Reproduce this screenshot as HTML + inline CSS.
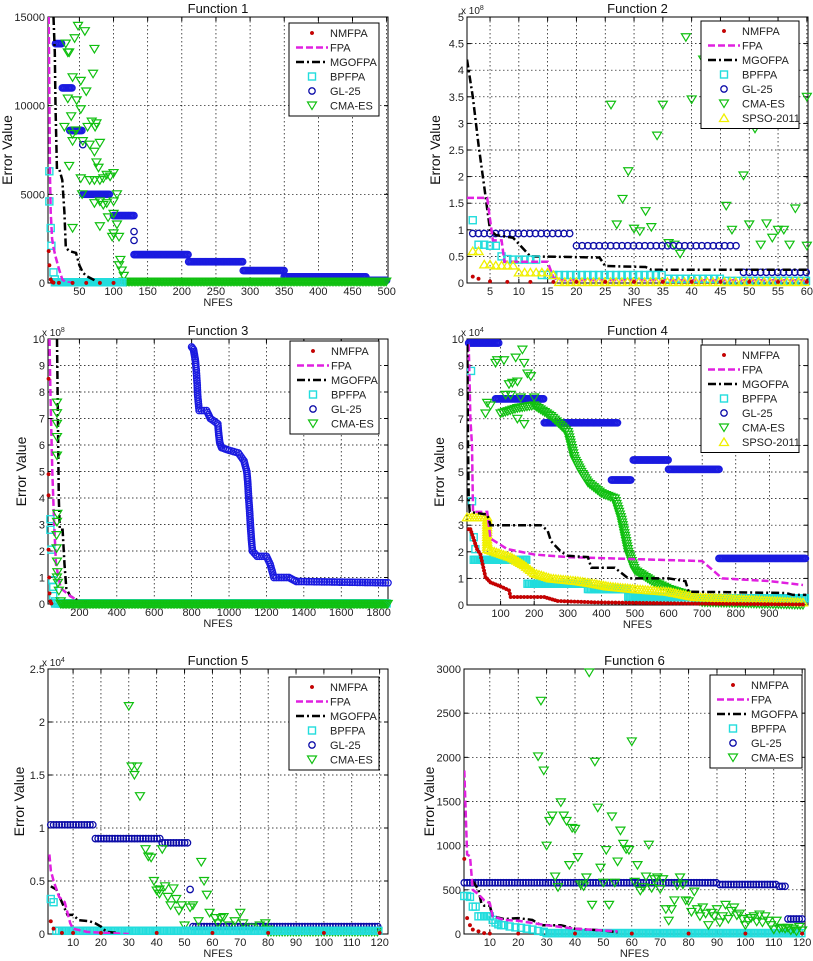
<!DOCTYPE html>
<html><head><meta charset="utf-8"><style>
html,body{margin:0;padding:0;background:#fff}
svg{display:block;font-family:"Liberation Sans",Arial,sans-serif}
</style></head><body>
<svg id="fig" width="813" height="961" viewBox="0 0 813 961" xmlns="http://www.w3.org/2000/svg"></svg>
<script>
// ===== Function 1 =====
const f1_nm_x=[5,6,8,10,12,20,40,60,80,100];
const f1_nm_y=[1800,1000,200,60,20,10,5,5,5,5];
const f1_fpa_x=[5,6,7,8,10,12,15,20,25,30,40];
const f1_fpa_y=[15000,10000,6000,4000,2500,2000,1500,800,200,50,20];
const f1_mg_x=[12,14,15,17,20,25,28,30,35,45,50,55,60,70,75];
const f1_mg_y=[15000,13000,10000,6500,6500,5800,4000,2000,1800,1700,1000,600,400,200,100];
const f1_bp_x=[6,6,8,9,12,14];
const f1_bp_y=[6300,4600,3100,2100,600,200];
const f1_bpz_x0=[14],f1_bpz_x1=[115],f1_bpz_y=[40];
const f1_gl_x0=[15,25,36,55,100,130,210,290,350,470];
const f1_gl_x1=[25,40,55,95,130,210,290,350,470,500];
const f1_gl_y=[13500,11000,8600,5000,3800,1600,1200,700,350,150];
const f1_gls_x=[55,130,130],f1_gls_y=[7800,2900,2400];
const f1_cma_x=[30,33,35,43,48,58,72,70,40,33,46,52,60,38,52,28,40,45,62,68,75,73,40,55,65,80,72,35,75,78,52,65,72,80,85,90,95,100,54,72,80,85,90,100,105,92,100,105,40,80,100,108,98,110,108,112,115];
const f1_cma_y=[13500,13000,13000,13800,14500,14200,13200,11800,11600,10400,10300,11400,10800,9400,9800,8800,8400,8600,8800,9100,9000,8800,8000,8000,7800,7900,7400,6600,6800,6500,5900,5800,5800,5800,5900,6100,6000,6200,5000,4500,4600,4400,4500,4600,5000,3700,3900,3300,3100,3200,2800,2600,2600,1300,1000,700,400];
const f1_cmaz_x0=[115],f1_cmaz_x1=[500],f1_cmaz_y=[80];
// ===== Function 2 (x1e8) =====
const f2_nm_x=[2,3,5,8,12,16,20,25,30,35,40,45,50,55,60];
const f2_nm_y=[0.12,0.08,0.03,0.02,0.02,0.02,0.02,0.02,0.02,0.02,0.02,0.02,0.02,0.02,0.02];
const f2_fpa_x=[1,4.5,5,5.5,7,7.5,15,16,17,60];
const f2_fpa_y=[1.6,1.6,1.2,0.8,0.8,0.4,0.4,0.1,0.05,0.05];
const f2_mg_x=[1,2,3,4,5,6,9,12,24,25,32,33,60];
const f2_mg_y=[4.2,3.5,2.6,1.8,1.0,0.9,0.85,0.5,0.48,0.32,0.3,0.25,0.25];
const f2_bp_x=[2,3,4,5,6,7,8,9,10,11,12,13];
const f2_bp_y=[1.18,0.72,0.72,0.7,0.7,0.5,0.45,0.44,0.44,0.44,0.44,0.44];
const f2_bpz_x0=[14,36,46],f2_bpz_x1=[35,45,60],f2_bpz_y=[0.15,0.08,0.04];
const f2_gl_x0=[2,20,49],f2_gl_x1=[19,48,60],f2_gl_y=[0.93,0.7,0.2];
const f2_cma_x=[26,27,28,29,30,31,32,33,34,35,36,37,38,39,40,42,46,47,49,50,51,52,53,54,55,56,57,58,60,60];
const f2_cma_y=[3.35,1.1,1.58,2.1,1.02,0.97,1.35,1.05,2.77,3.35,0.75,0.72,0.55,4.62,3.45,4.2,1.45,1.0,2.02,1.1,2.9,0.72,1.12,0.85,1.0,1.0,0.72,1.4,0.7,3.5];
const f2_sp_x=[2,3,4,5,6,7,8,9,10,11,12,13,14,15,16];
const f2_sp_y=[0.6,0.6,0.35,0.35,0.33,0.33,0.33,0.33,0.2,0.2,0.2,0.2,0.2,0.2,0.15];
const f2_spz_x0=[17],f2_spz_x1=[60],f2_spz_y=[0.02];
// ===== Function 3 (x1e8) =====
const f3_nm_x=[35,35,35,35,38,40,45,50];
const f3_nm_y=[8.5,4.9,4.1,2.05,1.0,0.4,0.1,0.02];
const f3_fpa_x=[40,45,55,65,75,100,150,200,240];
const f3_fpa_y=[10,8,5,3,1.5,0.6,0.3,0.1,0.05];
const f3_mg_x=[80,85,90,95,110,120,130,150,200,240];
const f3_mg_y=[10,7,4,2.8,2.8,1.5,0.6,0.3,0.1,0.05];
const f3_bp_x=[45,45,50,55,60,60,70];
const f3_bp_y=[3.2,2.8,2.05,0.9,0.65,0.3,0.1];
const f3_bpz_x0=[70],f3_bpz_x1=[1850],f3_bpz_y=[0.02];
const f3_gl_x=[800,810,815,820,825,830,832,840,880,900,940,945,950,960,1000,1050,1080,1095,1100,1105,1110,1115,1120,1125,1150,1200,1220,1240,1320,1360,1850];
const f3_gl_y=[9.7,9.6,9.4,9.2,8.8,8.25,7.9,7.3,7.3,7.0,6.8,6.4,6.1,5.9,5.8,5.7,5.4,5.0,4.6,4.0,3.5,2.9,2.4,2.0,1.8,1.8,1.5,1.0,1.0,0.85,0.8];
const f3_cma_x=[80,80,80,80,80,82,80,78,78,80,82,80,85,90,100];
const f3_cma_y=[7.6,7.2,6.8,6.3,5.6,3.4,3.1,2.6,2.1,1.6,1.2,1.0,0.8,0.5,0.1];
const f3_cmaz_x0=[100],f3_cmaz_x1=[1850],f3_cmaz_y=[0.0];
// ===== Function 4 (x1e4) =====
const f4_nm_x=[5,10,30,40,55,70,100,125,130,230,270,380,700,1000];
const f4_nm_y=[2.85,2.85,2.1,1.9,1.05,0.85,0.7,0.55,0.3,0.3,0.15,0.1,0.05,0.02];
const f4_fpa_x=[5,10,15,18,60,70,120,200,300,700,760,900,1000];
const f4_fpa_y=[9.8,7,6,3.5,3.5,2.5,2.1,1.9,1.8,1.65,1.0,0.9,0.75];
const f4_mg_x=[1,3,5,8,60,70,220,240,250,280,300,360,370,440,480,600,650,660,950,970,1010];
const f4_mg_y=[9.8,6,4,3.5,3.4,3.0,3.0,2.8,2.4,2.0,1.85,1.8,1.4,1.4,1.0,1.0,0.9,0.5,0.45,0.38,0.38];
const f4_bp_x=[12,15,20,25];
const f4_bp_y=[8.8,3.9,2.55,2.1];
const f4_bpz_x0=[20,180,360,480,680],f4_bpz_x1=[180,360,480,680,1010],f4_bpz_y=[1.7,0.8,0.6,0.3,0.25];
const f4_gl_x0=[5,85,230,430,495,600,750],f4_gl_x1=[95,230,450,490,600,750,1010],f4_gl_y=[9.85,7.75,6.85,4.7,5.45,5.1,1.75];
const f4_cma_x=[115,125,135,150,145,165,170,180,190,85,90,110,55,70,60,170,150,130,160,200];
const f4_cma_y=[7.9,8.3,8.35,8.4,9.3,9.6,9.1,8.7,8.6,9.1,9.2,9.2,7.2,7.5,7.6,6.8,7.0,7.9,7.8,7.8];
const f4_cmac_x=[100,150,200,250,300,320,340,360,400,440,460,480,500,550,600,650,700,1000];
const f4_cmac_y=[7.2,7.4,7.5,7.1,6.5,5.5,5.0,4.6,4.2,4.0,3.2,2.0,1.3,0.9,0.6,0.4,0.1,0.0];
const f4_sp_x=[0,60,60,130,170,200,250,330,380,420,500,600,680,1000];
const f4_sp_y=[3.3,3.3,2.1,1.8,1.5,1.2,1.0,0.9,0.8,0.7,0.6,0.5,0.3,0.1];
// ===== Function 5 (x1e4) =====
const f5_nm_x=[2,3,6,10,20,40,60,80,100,120];
const f5_nm_y=[0.12,0.05,0.01,0.01,0.01,0.01,0.01,0.01,0.01,0.01];
const f5_fpa_x=[1.5,2,3,5,7,9,10,15,30];
const f5_fpa_y=[0.75,0.6,0.5,0.35,0.3,0.1,0.05,0.02,0.0];
const f5_mg_x=[2,4,6,8,10,12,16,18,20,22,26];
const f5_mg_y=[0.45,0.42,0.3,0.18,0.18,0.13,0.12,0.1,0.07,0.02,0.01];
const f5_bp_x=[2,3];
const f5_bp_y=[0.33,0.3];
const f5_bpz_x0=[4],f5_bpz_x1=[120],f5_bpz_y=[0.03];
const f5_gl_x0=[2,18,42,53],f5_gl_x1=[18,42,52,120],f5_gl_y=[1.03,0.9,0.86,0.07];
const f5_gls_x=[52],f5_gls_y=[0.42];
const f5_cma_x=[30,31,32,33,34,36,37,38,39,40,41,41,42,43,44,45,46,47,48,49,50,52,53,55,56,57,58,59,61,62,63,64,66,68,70,71,74,77,79,80];
const f5_cma_y=[2.15,1.58,1.5,1.58,1.3,0.8,0.73,0.72,0.5,0.41,0.42,0.38,0.8,0.45,0.35,0.27,0.43,0.33,0.22,0.27,0.08,0.25,0.27,0.12,0.68,0.5,0.37,0.2,0.15,0.1,0.15,0.16,0.08,0.12,0.2,0.1,0.06,0.08,0.1,0.04];
const f5_cmaz_x0=[80],f5_cmaz_x1=[120],f5_cmaz_y=[0.02];
// ===== Function 6 =====
const f6_nm_x=[1,2,3,4,6,8,10,20,40,60,80,100,120];
const f6_nm_y=[850,180,100,50,30,10,5,5,5,5,5,5,5];
const f6_fpa_x=[1,2,3,4,6,8,10,11,15,20,30,40,50,55];
const f6_fpa_y=[1850,900,880,500,450,380,350,200,160,150,100,60,40,30];
const f6_mg_x=[4,6,7,8,10,11,15,20,25,28,35,40,50,55];
const f6_mg_y=[600,500,350,320,320,200,170,180,160,100,100,60,40,20];
const f6_bp_x=[1,2,3,4,5,6,7,8,9,10,11,12,13,14,15,17,19,21,23,25,27,29];
const f6_bp_y=[430,430,420,310,310,200,200,200,200,200,160,130,110,100,100,85,75,70,60,50,35,25];
const f6_bpz_x0=[30],f6_bpz_x1=[120],f6_bpz_y=[10];
const f6_gl_x0=[1,91,112,115],f6_gl_x1=[90,111,114,120],f6_gl_y=[580,560,540,170];
const f6_cma_x=[27,28,29,30,31,32,33,34,35,36,37,38,39,40,41,42,43,44,45,46,47,48,49,50,51,52,53,54,55,56,57,58,59,60,61,62,63,64,65,66,67,68,69,70,71,72,73,74,75,76,77,78,79,80,81,82,83,84,85,86,87,88,89,90,91,92,93,94,95,96,97,98,99,100,101,102,103,104,105,106,107,108,109,110,111,112,113,114,115,116,117,118,119,120];
const f6_cma_y=[2010,2640,1850,1000,1280,1340,650,530,1490,1340,1280,780,1200,1190,870,560,540,640,2960,330,1950,1430,750,580,950,330,1330,580,820,1170,1020,960,950,2180,590,780,490,530,650,1010,520,620,640,510,620,280,150,280,380,550,640,560,380,370,250,480,280,200,300,230,100,240,200,280,130,200,330,170,260,300,210,230,170,100,150,180,200,140,220,130,200,150,100,50,150,60,70,60,70,40,60,30,80,40];

// ===== tick labels =====
const f1_xt=[50,100,150,200,250,300,350,400,450,500], f1_yt=[0,5000,10000,15000];
const f2_xt=[5,10,15,20,25,30,35,40,45,50,55,60], f2_yt=[0,0.5,1,1.5,2,2.5,3,3.5,4,4.5,5];
const f3_xt=[200,400,600,800,1000,1200,1400,1600,1800], f3_yt=[0,1,2,3,4,5,6,7,8,9,10];
const f4_xt=[100,200,300,400,500,600,700,800,900], f4_yt=[0,1,2,3,4,5,6,7,8,9,10];
const f5_xt=[10,20,30,40,50,60,70,80,90,100,110,120], f5_yt=[0,0.5,1,1.5,2,2.5];
const f6_xt=[10,20,30,40,50,60,70,80,90,100,110,120], f6_yt=[0,500,1000,1500,2000,2500,3000];

const NS='http://www.w3.org/2000/svg';
const svg=document.getElementById('fig');
function mk(tag,attrs,parent){const e=document.createElementNS(NS,tag);for(const k in attrs)e.setAttribute(k,attrs[k]);(parent||svg).appendChild(e);return e;}
const C={nm:'#cc0000',fpa:'#e020e0',mg:'#000000',bp:'#22dddd',gl:'#0c0ca8',gld:'#1a1ae0',cma:'#10c010',sp:'#f0f000'};

function makePlot(id,box,xd,yd,xt,yt,title,exp){
  const g=mk('g',{});
  
  
  const p={g,box,xd,yd,id};
  p.sx=v=>box.l+(v-xd[0])/(xd[1]-xd[0])*(box.r-box.l);
  p.sy=v=>box.b-(v-yd[0])/(yd[1]-yd[0])*(box.b-box.t);
  const cp=mk('clipPath',{id:'cp'+id},g);
  mk('rect',{x:box.l,y:box.t,width:box.r-box.l,height:box.b-box.t},cp);
  const grid=mk('g',{stroke:'#000','stroke-width':0.7,'stroke-dasharray':'1.5,2.5'},g);
  
  
  xt.forEach(v=>{const x=p.sx(v);if(x>box.l+1&&x<box.r-1)mk('line',{x1:x,x2:x,y1:box.t,y2:box.b},grid);});
  yt.forEach(v=>{const y=p.sy(v);if(y>box.t+1&&y<box.b-1)mk('line',{x1:box.l,x2:box.r,y1:y,y2:y},grid);});
  const ax=mk('g',{stroke:'#000','stroke-width':1},g);
  
  
  xt.forEach(v=>{const x=p.sx(v);mk('line',{x1:x,x2:x,y1:box.b,y2:box.b-4},ax);mk('line',{x1:x,x2:x,y1:box.t,y2:box.t+4},ax);});
  yt.forEach(v=>{const y=p.sy(v);mk('line',{x1:box.l,x2:box.l+4,y1:y,y2:y},ax);mk('line',{x1:box.r,x2:box.r-4,y1:y,y2:y},ax);});
  const xl=mk('g',{'font-size':11,'text-anchor':'middle',fill:'#222'},g);
  
  
  xt.forEach(v=>{const t=mk('text',{x:p.sx(v),y:box.b+12},xl);t.textContent=v;});
  const yl=mk('g',{'font-size':11,'text-anchor':'end',fill:'#222'},g);
  
  
  yt.forEach(v=>{const t=mk('text',{x:box.l-3,y:p.sy(v)+4},yl);t.textContent=v;});
  const ti=mk('text',{x:(box.l+box.r)/2,y:box.t-4,'font-size':13,'text-anchor':'middle',fill:'#111'},g);
  ti.textContent=title;
  
  
  const xa=mk('text',{x:(box.l+box.r)/2,y:box.b+23,'font-size':11,'text-anchor':'middle',fill:'#222'},g);
  xa.textContent='NFES';
  
  
  const yx=box.yx;
  const ya=mk('text',{x:yx,y:(box.t+box.b)/2,'font-size':14,'text-anchor':'middle',fill:'#111',transform:`rotate(-90 ${yx} ${(box.t+box.b)/2})`},g);
  ya.textContent='Error Value';
  
  
  if(exp){const e=mk('text',{x:box.l-6,y:box.t-3,'font-size':10,fill:'#222'},g);
    
    
    e.textContent='x 10';const s=mk('tspan',{dy:-4,'font-size':7},e);s.textContent=exp;}
  mk('rect',{x:box.l,y:box.t,width:box.r-box.l,height:box.b-box.t,fill:'none',stroke:'#000','stroke-width':1},g);
  p.series=mk('g',{},g);
  return p;
}
function marker(par,kind,x,y){
  if(kind==='nm'){mk('circle',{cx:x,cy:y,r:1.8,fill:C.nm,stroke:'#a00','stroke-width':0.4},par);}
  else if(kind==='bp'){mk('rect',{x:x-3.5,y:y-3.5,width:7,height:7,fill:'none',stroke:C.bp,'stroke-width':1.4},par);}
  else if(kind==='gl'){mk('circle',{cx:x,cy:y,r:3.2,fill:'none',stroke:C.gl,'stroke-width':1.3},par);}
  else if(kind==='gld'){mk('circle',{cx:x,cy:y,r:3.2,fill:'none',stroke:C.gld,'stroke-width':1.3},par);}
  else if(kind==='cma'){mk('path',{d:`M${x-4.5},${y-3.5}L${x+4.5},${y-3.5}L${x},${y+4}Z`,fill:'none',stroke:C.cma,'stroke-width':1.2},par);}
  else if(kind==='sp'){mk('path',{d:`M${x-4.5},${y+3.5}L${x+4.5},${y+3.5}L${x},${y-4}Z`,fill:'none',stroke:C.sp,'stroke-width':1.3},par);}
}
function lineS(p,xs,ys,kind,name){
  const d=xs.map((v,i)=>(i?'L':'M')+p.sx(v).toFixed(1)+','+p.sy(ys[i]).toFixed(1)).join('');
  const st={fpa:{c:C.fpa,da:'7,3'},mg:{c:C.mg,da:'8,3,2,3'},nm:{c:C.nm,da:'1.5,3'}}[kind];
  const e=mk('path',{d,fill:'none',stroke:st.c,'stroke-width':2.5,'stroke-dasharray':st.da,'clip-path':`url(#cp${p.id})`},p.series);
  
  
}
function ptsS(p,xs,ys,kind,name){
  const g=mk('g',{},p.series);
  
  
  xs.forEach((v,i)=>marker(g,kind,p.sx(v),p.sy(ys[i])));
}
function stepS(p,x0,x1,ys,kind,name,px){
  const g=mk('g',{},p.series);
  
  
  ys.forEach((v,i)=>{const a=p.sx(x0[i]),b=p.sx(x1[i]),y=p.sy(v);for(let x=a;x<=b+0.01;x+=px)marker(g,kind,x,y);});
}
function pathS(p,xs,ys,kind,name,px){
  const g=mk('g',{},p.series);
  
  
  for(let i=0;i<xs.length-1;i++){const ax=p.sx(xs[i]),ay=p.sy(ys[i]),bx=p.sx(xs[i+1]),by=p.sy(ys[i+1]);
    const L=Math.hypot(bx-ax,by-ay),n=Math.max(1,Math.ceil(L/px));
    for(let k=0;k<n;k++){const t=k/n;marker(g,kind,ax+(bx-ax)*t,ay+(by-ay)*t);}}
  marker(g,kind,p.sx(xs[xs.length-1]),p.sy(ys[ys.length-1]));
}
function legend(p,x,y,w,entries){
  const g=mk('g',{},p.g);
  
  
  const h=entries.length*14.5+6;
  mk('rect',{x,y,width:w,height:h,fill:'#fff',stroke:'#000','stroke-width':1},g);
  entries.forEach((k,i)=>{
    const eg=mk('g',{},g);
    
    
    const cy=y+10+i*14.5;
    if(k==='fpa')mk('line',{x1:x+7,x2:x+39,y1:cy,y2:cy,stroke:C.fpa,'stroke-width':2.5,'stroke-dasharray':'7,3'},eg);
    else if(k==='mg')mk('line',{x1:x+7,x2:x+39,y1:cy,y2:cy,stroke:C.mg,'stroke-width':2.5,'stroke-dasharray':'8,3,2,3'},eg);
    else marker(eg,k,x+23,cy);
    const t=mk('text',{x:x+41,y:cy+4,'font-size':11,fill:'#222'},eg);
    t.textContent={nm:'NMFPA',fpa:'FPA',mg:'MGOFPA',bp:'BPFPA',gl:'GL-25',cma:'CMA-ES',sp:'SPSO-2011'}[k];
  });
}
const L6=['nm','fpa','mg','bp','gl','cma'],L7=['nm','fpa','mg','bp','gl','cma','sp'];

// Plot 1
let p=makePlot('1',{l:48,t:17,r:388,b:283,yx:12},[4,502],[0,15000],f1_xt,f1_yt,'Function 1',null);
stepS(p,f1_gl_x0,f1_gl_x1,f1_gl_y,'gld','gl25-series',1.2);ptsS(p,f1_gls_x,f1_gls_y,'gl','gl25-points');
ptsS(p,f1_cma_x,f1_cma_y,'cma','cmaes-series');stepS(p,f1_cmaz_x0,f1_cmaz_x1,f1_cmaz_y,'cma','cmaes-tail',1.5);
stepS(p,f1_bpz_x0,f1_bpz_x1,f1_bpz_y,'bp','bpfpa-tail',1.5);ptsS(p,f1_bp_x,f1_bp_y,'bp','bpfpa-series');
lineS(p,f1_mg_x,f1_mg_y,'mg','mgofpa-line');lineS(p,f1_fpa_x,f1_fpa_y,'fpa','fpa-line');ptsS(p,f1_nm_x,f1_nm_y,'nm','nmfpa-series');
legend(p,289,23,90,L6);
// Plot 2
p=makePlot('2',{l:467,t:17,r:808,b:283,yx:440},[1,60.2],[0,5],f2_xt,f2_yt,'Function 2','8');
ptsS(p,f2_cma_x,f2_cma_y,'cma','cmaes-series');
stepS(p,f2_gl_x0,f2_gl_x1,f2_gl_y,'gl','gl25-series',5.7);
lineS(p,f2_mg_x,f2_mg_y,'mg','mgofpa-line');
ptsS(p,f2_bp_x,f2_bp_y,'bp','bpfpa-series');stepS(p,f2_bpz_x0,f2_bpz_x1,f2_bpz_y,'bp','bpfpa-tail',5.7);
lineS(p,f2_fpa_x,f2_fpa_y,'fpa','fpa-line');
ptsS(p,f2_sp_x,f2_sp_y,'sp','spso-series');stepS(p,f2_spz_x0,f2_spz_x1,f2_spz_y,'sp','spso-tail',5.7);
ptsS(p,f2_nm_x,f2_nm_y,'nm','nmfpa-series');
legend(p,701,21,98,L7);
// Plot 3
p=makePlot('3',{l:48,t:339,r:388,b:604,yx:26},[32,1850],[0,10],f3_xt,f3_yt,'Function 3','8');
pathS(p,f3_gl_x,f3_gl_y,'gld','gl25-series',2.6);
stepS(p,f3_bpz_x0,f3_bpz_x1,f3_bpz_y,'bp','bpfpa-tail',1.5);ptsS(p,f3_bp_x,f3_bp_y,'bp','bpfpa-series');
lineS(p,f3_mg_x,f3_mg_y,'mg','mgofpa-line');lineS(p,f3_fpa_x,f3_fpa_y,'fpa','fpa-line');
stepS(p,f3_cmaz_x0,f3_cmaz_x1,f3_cmaz_y,'cma','cmaes-tail',1.5);ptsS(p,f3_cma_x,f3_cma_y,'cma','cmaes-series');
ptsS(p,f3_nm_x,f3_nm_y,'nm','nmfpa-series');
legend(p,290,341,89,L6);
// Plot 4
p=makePlot('4',{l:467,t:339,r:808,b:605,yx:444},[0,1015],[0,10],f4_xt,f4_yt,'Function 4','4');
stepS(p,f4_gl_x0,f4_gl_x1,f4_gl_y,'gld','gl25-series',1.2);
pathS(p,f4_cmac_x,f4_cmac_y,'cma','cmaes-curve',2.8);ptsS(p,f4_cma_x,f4_cma_y,'cma','cmaes-series');
stepS(p,f4_bpz_x0,f4_bpz_x1,f4_bpz_y,'bp','bpfpa-tail',1.5);ptsS(p,f4_bp_x,f4_bp_y,'bp','bpfpa-series');
pathS(p,f4_sp_x,f4_sp_y,'sp','spso-series',2.6);
lineS(p,f4_fpa_x,f4_fpa_y,'fpa','fpa-line');lineS(p,f4_mg_x,f4_mg_y,'mg','mgofpa-line');
pathS(p,f4_nm_x,f4_nm_y,'nm','nmfpa-series',3.5);
legend(p,701,345,98,L7);
// Plot 5
p=makePlot('5',{l:48,t:669,r:388,b:934,yx:24},[1,123],[0,2.5],f5_xt,f5_yt,'Function 5','4');
stepS(p,f5_gl_x0,f5_gl_x1,f5_gl_y,'gl','gl25-series',2.8);ptsS(p,f5_gls_x,f5_gls_y,'gl','gl25-points');
ptsS(p,f5_cma_x,f5_cma_y,'cma','cmaes-series');stepS(p,f5_cmaz_x0,f5_cmaz_x1,f5_cmaz_y,'cma','cmaes-tail',2.8);
stepS(p,f5_bpz_x0,f5_bpz_x1,f5_bpz_y,'bp','bpfpa-tail',2.8);ptsS(p,f5_bp_x,f5_bp_y,'bp','bpfpa-series');
lineS(p,f5_mg_x,f5_mg_y,'mg','mgofpa-line');lineS(p,f5_fpa_x,f5_fpa_y,'fpa','fpa-line');ptsS(p,f5_nm_x,f5_nm_y,'nm','nmfpa-series');
legend(p,289,677,90,L6);
// Plot 6
p=makePlot('6',{l:464,t:669,r:805,b:934,yx:434},[0.9,121],[0,3000],f6_xt,f6_yt,'Function 6',null);
stepS(p,f6_bpz_x0,f6_bpz_x1,f6_bpz_y,'bp','bpfpa-tail',2.8);ptsS(p,f6_bp_x,f6_bp_y,'bp','bpfpa-series');
stepS(p,f6_gl_x0,f6_gl_x1,f6_gl_y,'gl','gl25-series',2.8);
ptsS(p,f6_cma_x,f6_cma_y,'cma','cmaes-series');
lineS(p,f6_mg_x,f6_mg_y,'mg','mgofpa-line');lineS(p,f6_fpa_x,f6_fpa_y,'fpa','fpa-line');ptsS(p,f6_nm_x,f6_nm_y,'nm','nmfpa-series');
legend(p,710,675,92,L6);
</script>
</body></html>
